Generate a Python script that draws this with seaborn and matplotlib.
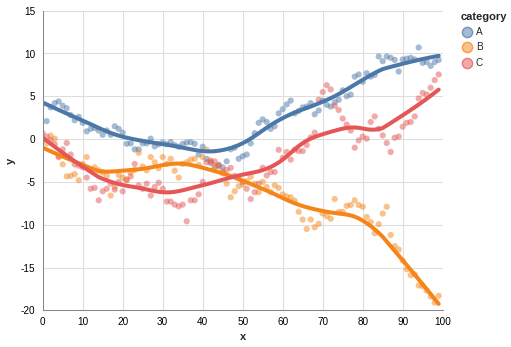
import numpy as np
import pandas as pd
import matplotlib
matplotlib.use("Agg")
import matplotlib.pyplot as plt
import seaborn as sns
from matplotlib.lines import Line2D

# ---- data -------------------------------------------------------------
x_vals = list(range(100))

a_vals = [4.1, 2.1, 3.7, 4.2, 4.4, 3.9, 3.6, 2.8, 2.2, 2.6,
          1.9, 0.9, 1.2, 1.3, 1.0, 0.5, 1.0, 0.5, 1.5, 1.2,
          0.75, -0.55, -0.5, -1.2, -1.2, -0.5, -0.5, 0.05, -0.85, -0.6,
          -0.4, -0.6, -0.35, -0.7, -0.9, -0.55, -0.4, -0.35, -0.55, -1.8,
          -0.9, -2.3, -2.8, -3.3, -3.0, -3.3, -2.6, -1.2, -1.0, -2.3,
          -2.0, -1.8, -0.5, 0.7, 1.9, 2.3, 2.0, 1.2, 1.5, 3.0,
          3.5, 4.05, 4.5, 3.0, 3.3, 3.7, 3.8, 4.2, 2.9, 3.35,
          4.5, 4.0, 3.8, 4.3, 4.6, 5.7, 5.0, 5.2, 7.3, 7.55,
          6.7, 7.7, 7.3, 7.5, 9.65, 9.1, 9.65, 9.5, 9.25, 7.9,
          9.3, 9.4, 9.5, 9.3, 10.7, 8.9, 9.0, 8.55, 9.0, 9.25]

b_vals = [-0.1, -0.5, 0.4, 0.05, -2.0, -2.95, -4.35, -4.3, -4.1, -4.8,
          -2.9, -2.1, -3.6, -3.3, -3.65, -3.9, -4.3, -6.6, -5.6, -4.2,
          -4.5, -4.7, -3.9, -3.6, -1.6, -3.2, -3.65, -2.1, -2.7, -3.4,
          -2.1, -2.9, -2.3, -3.7, -4.5, -2.9, -2.7, -2.4, -2.3, -3.0,
          -2.1, -1.25, -2.5, -3.1, -3.2, -4.0, -5.2, -6.8, -6.1, -5.5,
          -5.3, -4.9, -4.4, -5.2, -6.2, -5.0, -5.6, -6.2, -5.4, -5.7,
          -6.45, -6.7, -6.8, -7.2, -8.5, -9.4, -10.5, -9.4, -10.3, -9.9,
          -8.7, -9.0, -9.3, -7.0, -8.5, -8.5, -7.8, -7.7, -7.15, -7.7,
          -7.9, -9.1, -9.7, -11.0, -9.95, -8.7, -7.9, -11.2, -12.5, -12.9,
          -14.2, -15.2, -15.9, -15.8, -17.1, -17.2, -17.7, -18.4, -19.1, -18.3]

c_vals = [0.7, 0.3, -0.1, -0.6, -2.1, -1.2, -0.45, -1.8, -2.95, -3.1,
          -3.3, -4.5, -5.8, -5.7, -7.15, -6.1, -5.8, -5.2, -5.9, -5.0,
          -6.1, -4.8, -4.35, -2.9, -5.4, -5.8, -5.2, -6.6, -5.6, -5.1,
          -5.8, -7.3, -7.3, -7.65, -7.85, -7.65, -9.6, -7.15, -7.15, -6.45,
          -5.0, -2.7, -2.6, -2.6, -3.1, -3.8, -3.6, -3.35, -4.3, -4.6,
          -5.0, -5.8, -7.0, -6.2, -5.2, -3.35, -4.25, -3.85, -3.85, -1.25,
          -2.2, -1.5, -2.4, -1.25, -1.4, -1.4, -0.7, 0.2, 0.75, 4.6,
          5.5, 6.3, 5.8, 3.9, 3.4, 2.4, 1.7, 1.0, -1.0, -0.15,
          0.3, 0.05, 2.0, 2.65, 1.2, 0.43, -0.45, -1.5, 0.16, 0.3,
          1.45, 1.9, 2.0, 2.65, 4.75, 5.4, 5.2, 6.0, 6.9, 7.55]

categories = ["A", "B", "C"]
palette = ["#4c78a8", "#f58518", "#e45756"]

x_ticks = list(range(0, 101, 10))
y_ticks = list(range(-20, 16, 5))


# ---- loess smoother (local linear, tricube weights, robust passes) ----
def loess(xs, ys, bandwidth=0.3, maxiters=2):
    order = np.argsort(xs)
    xv = np.asarray(xs, float)[order]
    yv = np.asarray(ys, float)[order]
    n = len(xv)
    bw = max(2, int(bandwidth * n))
    yhat = np.zeros(n)
    resid = np.zeros(n)
    rw = np.ones(n)
    eps = 1e-12
    for it in range(maxiters + 1):
        i0, i1 = 0, bw - 1
        for i in range(n):
            dx = xv[i]
            edge = i0 if (dx - xv[i0]) > (xv[i1] - dx) else i1
            d = abs(xv[edge] - dx) or 1.0
            u = np.abs(dx - xv[i0:i1 + 1]) / d
            t = 1 - u ** 3
            w = np.clip(t, 0, None) * t * t * rw[i0:i1 + 1]
            w = np.where(u >= 1, 0, w)
            W = w.sum()
            mx = (w * xv[i0:i1 + 1]).sum() / W
            my = (w * yv[i0:i1 + 1]).sum() / W
            mxy = (w * xv[i0:i1 + 1] * yv[i0:i1 + 1]).sum() / W
            mx2 = (w * xv[i0:i1 + 1] ** 2).sum() / W
            delta = mx2 - mx * mx
            slope = 0.0 if abs(delta) < 1e-24 else (mxy - mx * my) / delta
            yhat[i] = my - slope * mx + slope * dx
            resid[i] = abs(yv[i] - yhat[i])
            # slide the window to the right
            j = i + 1
            if j < n:
                right = i1 + 1
                while right < n and j > i0 and (xv[right] - xv[j]) <= (xv[j] - xv[i0]):
                    i0 += 1
                    i1 = right
                    right += 1
        if it == maxiters:
            break
        med = np.median(resid)
        if abs(med) < eps:
            break
        arg = resid / (6 * med)
        rw = np.where(arg >= 1, eps, (1 - arg ** 2) ** 2)
    return xv, yhat


series = {"A": a_vals, "B": b_vals, "C": c_vals}
points = pd.DataFrame({
    "x": x_vals * 3,
    "y": a_vals + b_vals + c_vals,
    "category": [c for c in categories for _ in x_vals],
})

fits = []
for cat in categories:
    fx, fy = loess(x_vals, series[cat])
    fits.append(pd.DataFrame({"x": fx, "y": fy, "category": cat}))
fits = pd.concat(fits, ignore_index=True)

# ---- figure -----------------------------------------------------------
sns.set_theme(style="white")
plt.rcParams["font.family"] = ["Liberation Sans", "DejaVu Sans"]
plt.rcParams["axes.unicode_minus"] = False

W, H = 511, 347
fig = plt.figure(figsize=(W / 100, H / 100), dpi=100)
ax = fig.add_axes([42.7 / W, 1 - 310.3 / H, 400 / W, 299.6 / H])

sns.scatterplot(data=points, x="x", y="y", hue="category", hue_order=categories,
                palette=palette, s=20, alpha=0.5, linewidth=0, legend=False,
                ax=ax, zorder=3)
sns.lineplot(data=fits, x="x", y="y", hue="category", hue_order=categories,
             palette=palette, linewidth=2.9, estimator=None, legend=False,
             ax=ax, zorder=4)

ax.set_xlim(0, 100)
ax.set_ylim(-20, 15)
ax.set_xticks(x_ticks)
ax.set_yticks(y_ticks)
ax.grid(True, color="#dddddd", linewidth=0.75, zorder=0)
ax.set_axisbelow(True)
for side in ("top", "right"):
    ax.spines[side].set_visible(False)
for side in ("left", "bottom"):
    ax.spines[side].set_color("#888888")
    ax.spines[side].set_linewidth(0.75)
    ax.spines[side].set_zorder(5)
ax.tick_params(axis="both", length=3.6, width=0.75, color="#888888",
               labelsize=7.2, labelcolor="#000000", pad=1.5, direction="out")
ax.set_xlabel("x", fontsize=8, fontweight="bold", labelpad=3)
ax.set_ylabel("y", fontsize=8, fontweight="bold", labelpad=4)

handles = [Line2D([], [], linestyle="", marker="o", markersize=7.4,
                  markerfacecolor=matplotlib.colors.to_rgba(c, 0.5),
                  markeredgecolor=matplotlib.colors.to_rgba(c, 0.7),
                  markeredgewidth=1.0)
           for c in palette]
leg = ax.legend(handles, categories, title="category", loc="upper left",
                bbox_to_anchor=(454 / W, 1 - 4.5 / H), bbox_transform=fig.transFigure,
                frameon=False, fontsize=7.2, title_fontsize=8,
                handletextpad=0.3, labelspacing=0.55, borderpad=0.2,
                handlelength=1.2, alignment="left")
leg.get_title().set_fontweight("bold")

fig.savefig("out.png", dpi=100)
